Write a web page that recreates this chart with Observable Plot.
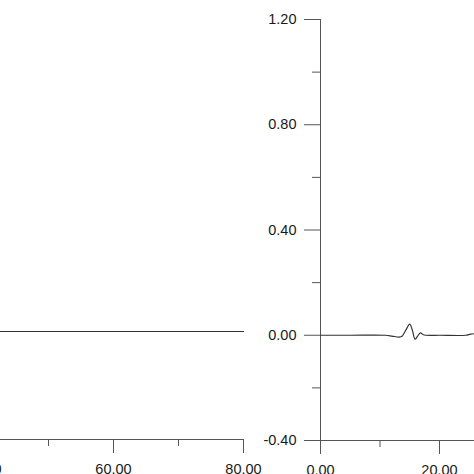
<!DOCTYPE html>
<html>
<head>
<meta charset="utf-8">
<script src="https://cdn.jsdelivr.net/npm/d3@7"></script>
<script src="https://cdn.jsdelivr.net/npm/@observablehq/plot@0.6"></script>
<style>
  html, body { margin: 0; padding: 0; background: #fff; }
  #wrap { position: relative; width: 474px; height: 474px; overflow: hidden; background: #fff; }
  #wrap svg { position: absolute; top: 0; max-width: none !important; }
</style>
</head>
<body>
<div id="wrap"></div>
<script>
// Left panel (only its right part is visible)
const leftX = [0, 20, 40, 60, 80];
const leftY = [0, 0, 0, 0, 0];
const leftMajorTicks = [0, 20, 40, 60, 80];
const leftMinorTicks = [10, 30, 50, 70];

// Right panel (only its left part is visible)
const rightX = [0, 5, 10.9, 12, 13.2, 13.7, 14.3, 15.0, 15.4, 15.9, 16.3, 16.8, 17.2, 17.7, 20, 24.4, 25.2, 26, 28];
const rightY = [0, 0, 0, -0.003, -0.007, -0.004, 0.018, 0.042, 0.022, -0.015, -0.004, 0.009, 0.003, 0, 0, 0, 0.004, 0.006, 0.006];
const rightYMajor = [-0.4, 0, 0.4, 0.8, 1.2];
const rightYMinor = [-0.2, 0.2, 0.6, 1.0];
const rightXMajor = [0, 20, 40, 60, 80];
const rightXMinor = [10, 30, 50, 70];

const fmt = (d) => d.toFixed(2);
const blank = () => "";
const axisColor = "#555";
const lineColor = "#333";
const style = {
  fontFamily: "'Liberation Sans', Arial, sans-serif",
  fontSize: "14.5px",
  color: "#1a1a1a",
  background: "transparent",
  overflow: "visible"
};

const leftData = leftX.map((x, i) => ({x, y: leftY[i]}));
const rightData = rightX.map((x, i) => ({x, y: rightY[i]}));

const left = Plot.plot({
  width: 633, height: 480,
  marginLeft: 73, marginRight: 40, marginTop: 7, marginBottom: 41,
  style,
  x: {domain: [0, 80], axis: null},
  y: {domain: [-0.4, 1.2], axis: null},
  marks: [
    Plot.ruleY([-0.4], {x1: 0, x2: 80, stroke: axisColor, strokeWidth: 1}),
    Plot.axisX(leftMajorTicks, {tickSize: 14, tickPadding: 10, tickFormat: fmt, stroke: axisColor, fill: "#1a1a1a", label: null}),
    Plot.axisX(leftMinorTicks, {tickSize: 7, tickFormat: blank, stroke: axisColor, label: null}),
    Plot.line(leftData, {x: "x", y: "y", stroke: lineColor, strokeWidth: 1.2})
  ]
});
left.style.left = "-350px";

const right = Plot.plot({
  width: 600, height: 480,
  marginLeft: 70, marginRight: 54, marginTop: 19, marginBottom: 40,
  style,
  x: {domain: [0, 80], axis: null},
  y: {domain: [-0.4, 1.2], axis: null},
  marks: [
    Plot.ruleX([0], {y1: -0.4, y2: 1.2, stroke: axisColor, strokeWidth: 1}),
    Plot.ruleY([-0.4], {x1: 0, x2: 80, stroke: axisColor, strokeWidth: 1}),
    Plot.axisY(rightYMajor, {tickSize: 16, tickPadding: 8, tickFormat: fmt, stroke: axisColor, fill: "#1a1a1a", label: null}),
    Plot.axisY(rightYMinor, {tickSize: 8, tickFormat: blank, stroke: axisColor, label: null}),
    Plot.axisX(rightXMajor, {tickSize: 14, tickPadding: 10, tickFormat: fmt, stroke: axisColor, fill: "#1a1a1a", label: null}),
    Plot.axisX(rightXMinor, {tickSize: 7, tickFormat: blank, stroke: axisColor, label: null}),
    Plot.line(rightData, {x: "x", y: "y", stroke: lineColor, strokeWidth: 1.2, curve: "catmull-rom"})
  ]
});
right.style.left = "250px";

const wrap = document.getElementById("wrap");
wrap.appendChild(left);
wrap.appendChild(right);
</script>
</body>
</html>
